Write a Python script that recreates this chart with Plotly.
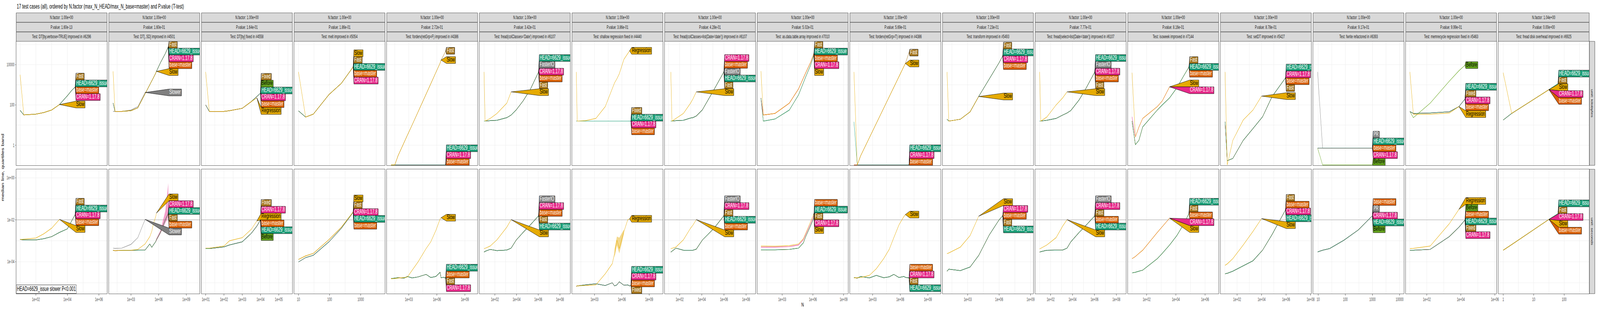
import math
import plotly.graph_objects as go

# ---------------- text ----------------
TITLE = "17 test cases (all), ordered by N.factor (max_N_HEAD/max_N_base=master) and P.value (T-test)"
Y_TITLE = "median line, quartiles band"
X_TITLE = "N"
ROW_STRIPS = ["unit: kilobytes", "unit: seconds"]
NOTE_TEXT = "HEAD=6629_issue slower P<0.001"

N_FACTOR = ["1.00e+00"] * 16 + ["1.04e+00"]
P_VALUE = ["1.60e-13", "1.60e-01", "1.64e-01", "1.86e-01", "2.72e-01", "3.42e-01",
           "3.86e-01", "4.28e-01", "5.02e-01", "5.69e-01", "7.23e-01", "7.77e-01",
           "8.16e-01", "8.78e-01", "9.17e-01", "9.99e-01", "0.00e+00"]
TESTS = ["DT[by,verbose=TRUE] improved in #6296",
         "DT[,.SD] improved in #4501",
         "DT[by] fixed in #4558",
         "melt improved in #5054",
         "forderv(retGrp=F) improved in #4386",
         "fread(colClasses='Date') improved in #6107",
         "shallow regression fixed in #4440",
         "fread(colClasses=list(Date='date')) improved in #6107",
         "as.data.table.array improved in #7010",
         "forderv(retGrp=T) improved in #4386",
         "transform improved in #5493",
         "fread(select=list(Date='date')) improved in #6107",
         "isoweek improved in #7144",
         "setDT improved in #5427",
         "fwrite refactored in #6393",
         "memrecycle regression fixed in #5463",
         "fread disk overhead improved in #6925"]

# x axis ticks per column
X_TICKS = [[1e2, 1e4, 1e6], [1e3, 1e6, 1e9], [1e1, 1e2, 1e3, 1e4, 1e5], [10, 100, 1000],
           [1e3, 1e6, 1e9], [1e2, 1e4, 1e6, 1e8], [1e3, 1e6, 1e9], [1e2, 1e4, 1e6, 1e8],
           [1e3, 1e6, 1e9], [1e3, 1e6, 1e9], [1e3, 1e6, 1e9], [1e2, 1e4, 1e6, 1e8],
           [1e2, 1e4, 1e6], [1e2, 1e4, 1e6, 1e8], [10, 100, 1000, 10000], [1e2, 1e4, 1e6],
           [1, 10, 100]]
X_TICKTEXT = [["1e+02", "1e+04", "1e+06"], ["1e+03", "1e+06", "1e+09"],
              ["1e+01", "1e+02", "1e+03", "1e+04", "1e+05"], ["10", "100", "1000"],
              ["1e+03", "1e+06", "1e+09"], ["1e+02", "1e+04", "1e+06", "1e+08"],
              ["1e+03", "1e+06", "1e+09"], ["1e+02", "1e+04", "1e+06", "1e+08"],
              ["1e+03", "1e+06", "1e+09"], ["1e+03", "1e+06", "1e+09"],
              ["1e+03", "1e+06", "1e+09"], ["1e+02", "1e+04", "1e+06", "1e+08"],
              ["1e+02", "1e+04", "1e+06"], ["1e+02", "1e+04", "1e+06", "1e+08"],
              ["10", "100", "1000", "10000"], ["1e+02", "1e+04", "1e+06"], ["1", "10", "100"]]
X_RANGE = [[0.75, 6.52], [0.6, 10.45], [0.77, 5.74], [0.86, 3.78], [0.64, 10.36],
           [0.57, 8.95], [0.53, 10.5], [0.64, 8.85], [0.57, 9.44], [0.53, 10.4],
           [0.6, 9.27], [0.59, 8.88], [0.71, 6.93], [0.64, 8.06], [0.81, 4.16],
           [0.76, 6.1], [-0.16, 2.82]]
Y_TICKS = [[1, 100, 10000], [1e-4, 1e-2, 1]]
Y_TICKTEXT = [["1", "100", "10000"], ["1e-04", "1e-02", "1e+00"]]
Y_MINOR = [[0.1, 10, 1000, 100000], [1e-5, 1e-3, 1e-1]]
Y_RANGE = [[-1.0, 5.16], [-5.52, 0.41]]
SECONDS_LIMIT = 0.01

# ---------------- versions ----------------
HEAD = "HEAD=6629_issue"
BASE = "base=master"
CRAN = "CRAN=1.17.8"
FAST = "Fast"
SLOW = "Slow"
SLOWER = "Slower"
FASTERIO = "FasterIO"
FIXED = "Fixed"
BEFORE = "Before"
REGR = "Regression"
PR = "PR"

VERSION_COLORS = {HEAD: "#1B9E77", BASE: "#D95F02", CRAN: "#E7298A", FAST: "#A6761D",
                  SLOW: "#E6AB02", SLOWER: "#808080", FASTERIO: "#808080", PR: "#808080",
                  FIXED: "#A6761D", BEFORE: "#66A61E", REGR: "#E6AB02"}
DARK_TEXT = {SLOW, REGR, BEFORE}
DRAW_ORDER = [SLOWER, FASTERIO, PR, BEFORE, FIXED, BASE, CRAN, FAST, HEAD, REGR, SLOW]

# ---------------- data (N, kilobytes, seconds) ----------------
P01_N = [10, 17, 100, 316, 1000, 3160, 10000, 17800, 31600]
P01_KB_MAIN = [54, 32, 35, 42, 56, 105, 288, 500, 794]
P01_KB_SLOW = [3160, 32, 35, 42, 56, 105, None, None, None]
P01_SEC_MAIN = [1.15e-3, 1.1e-3, 1.1e-3, 1.26e-3, 1.58e-3, 2.51e-3, 3.72e-3, 8.3e-3, 1.82e-2]
P01_SEC_SLOW = [1.15e-3, 1.2e-3, 1.35e-3, 2.14e-3, 3.98e-3, 1.05e-2, None, None, None]

P02_N = [11.5, 18.6, 100, 1000, 5500, 33900, 110000, 182000, 263000, 479000, 575000,
         1.58e6, 5.25e6, 1.12e7]
P02_KB_MAIN = [126, 48, 48, 52, 72, 355, 1000, 1510, 2190, 3800, 4680, 12600, 35500, 77600]
P02_KB_SLOW = [4680, 48, 48, 52, 72, 355, 1000, 1510, 2190, 3800, 4680, None, None, None]
P02_KB_SLOWER = [48, 48, 48, 56, 83, 417, None, None, None, None, None, None, None, None]
P02_SEC_MAIN = [3.47e-4, 3.39e-4, 3.47e-4, 3.55e-4, 3.63e-4, 3.63e-4, 7.08e-4, 4.9e-4,
                6.31e-4, 9.12e-4, 1.12e-3, 2.51e-3, 1.0e-2, 2.0e-2]
P02_SEC_SLOW = [3.47e-4, 3.39e-4, 3.47e-4, 3.55e-4, 3.89e-4, 7.08e-4, 1.58e-3, 2.88e-3,
                6.3e-3, 1.41e-2, 2.09e-2, None, None, None]
P02_SEC_SLOWER = [4.47e-4, 4.37e-4, 4.47e-4, 6.76e-4, 1.41e-3, 1.05e-2, None, None, None,
                  None, None, None, None, None]
P02_BAND_N = [479000, 575000, 1.58e6, 5.25e6, 1.12e7]
P02_BAND_LO = [8.5e-4, 1.0e-3, 2.2e-3, 7.0e-3, 1.3e-2]
P02_BAND_HI = [1.0e-3, 1.3e-3, 3.2e-3, 2.6e-2, 5.6e-1]

P03_N = [10, 15.8, 100, 200, 1000, 3160, 6310, 10000]
P03_KB_MAIN = [100, 48, 48, 52, 68, 148, 263, 389]
P03_KB_REGR = [4365, 48, 48, 52, 68, 148, 224, None]
P03_SEC_MAIN = [4.27e-4, 4.27e-4, 5.13e-4, 6.31e-4, 8.91e-4, 2.29e-3, 5.01e-3, 1.0e-2]
P03_SEC_REGR = [4.47e-4, 4.47e-4, 5.62e-4, 1.0e-3, 1.41e-3, 3.55e-3, 8.91e-3, None]

P04_N = [10, 17, 30, 95, 240, 575]
P04_KB_MAIN = [51, 25, 35, 324, 1200, 7760]
P04_KB_SLOW = [4365, 25, 35, 324, 1200, 7760]
P04_SEC_MAIN = [9.8e-5, 1.58e-4, 2.04e-4, 8.91e-4, 3.98e-3, 2.29e-2]
P04_SEC_SLOW = [1.29e-4, 1.91e-4, 2.51e-4, 1.12e-3, 4.47e-3, 2.4e-2]

P05_N = [12.6, 31.6, 70.8, 316, 708, 2240, 10000, 70800, 224000, 794000, 2.24e6, 2.82e6,
         5.01e6, 8.91e6]
P05_KB_SLOW = [0.105, 0.105, 0.3, 1.41, 3.16, 10, 45.7, 347, 1120, 4170, 12000, 17000, None, None]
P05_KB_FAST = [0.105, 0.105, 0.3, 1.41, 3.16, 10, 45.7, 347, 1120, 4170, 12000, 17000, 28000, 49000]
P05_KB_FLAT = [0.105, 0.105, 0.105, 0.105, 0.105, 0.105, 0.105, 0.105, 0.105, 0.105, 0.105,
               0.105, 0.105, 0.105]
P05_SEC_SLOW = [1.55e-5, 1.58e-5, 1.66e-5, 1.78e-5, 1.86e-5, 3.89e-5, 1.0e-4, 4.27e-4, 8.91e-4,
                3.16e-3, 1.1e-2, 1.26e-2, None, None]
P05_SEC_FLAT = [1.58e-5, 1.66e-5, 1.74e-5, 1.66e-5, 2.0e-5, 1.7e-5, 1.9e-5, 2.51e-5, 1.78e-5,
                2.0e-5, 3.16e-5, 1.74e-5, 1.82e-5, 1.7e-5]

P06_N = [10, 12.6, 37, 158, 1260, 3160, 9120, 39800, 182000, 1.1e6]
P06_KB_MAIN = [15.8, 15.8, 16.6, 17.4, 23.4, 31.6, 56, 158, 575, 4470]
P06_KB_SLOW = [4365, 15.8, 21.4, 38, 123, 447, None, None, None, None]
P06_SEC_MAIN = [2.88e-4, 3.16e-4, 3.89e-4, 3.39e-4, 3.63e-4, 4.47e-4, 1.07e-3, 2.51e-3, 5.62e-3, 1.58e-2]
P06_SEC_SLOW = [4.27e-4, 4.37e-4, 5.62e-4, 1.12e-3, 4.47e-3, 1.02e-2, None, None, None, None]

P07_N = [10, 12.6, 100, 1410, 15100, 89100, 158000, 288000, 525000, 1.7e6, 4.37e6, 7.08e6, 1e7]
P07_KB_FLAT = [15.8, 15.8, 15.8, 15.8, 15.8, 15.8, 15.8, 15.8, 15.8, 15.8, 15.8, 15.8, 15.8]
P07_KB_REGR = [4365, 15.8, 16.6, 21.4, 83, 631, 1260, 2000, 3550, 18600, 35500, 49000, None]
P07_SEC_FLAT = [6.76e-6, 7.08e-6, 7.94e-6, 8.91e-6, 7.41e-6, 1.0e-5, 7.08e-6, 7.94e-6, 1.12e-5,
                7.59e-6, 7.94e-6, 7.08e-6, 7.41e-6]
P07_SEC_REGR = [6.76e-6, 7.08e-6, 7.41e-6, 7.94e-6, 2.69e-5, 8.13e-5, 2.51e-4, 1.07e-3, 4.27e-4,
                2.75e-3, 1.0e-2, 1.12e-2, None]
P07_BAND_N = [158000, 288000, 525000, 1.7e6]
P07_BAND_LO = [1.6e-4, 6.0e-4, 2.5e-4, 2.2e-3]
P07_BAND_HI = [4.0e-4, 1.6e-3, 1.4e-3, 3.5e-3]

P08_N = [15.8, 20, 45.7, 219, 955, 1580, 3160, 11000, 126000, 1e6]
P08_KB_MAIN = [15.8, 15.8, 16.6, 17.4, 22.4, 23.4, 28.2, 56, 575, 4470]
P08_KB_SLOW = [4365, 15.8, 21.4, 38, 123, 200, 447, None, None, None]
P08_SEC_MAIN = [2.88e-4, 3.16e-4, 4.47e-4, 3.55e-4, 3.63e-4, 3.55e-4, 3.98e-4, 1.07e-3, 3.98e-3, 1.58e-2]
P08_SEC_SLOW = [4.27e-4, 4.37e-4, 5.01e-4, 1.12e-3, 3.98e-3, 5.62e-3, 1.02e-2, None, None, None]

P09_N = [8.5, 14.5, 200, 5010, 39800, 117000, 200000, 575000, 1.26e6]
P09_KB_ORANGE = [219, 31.6, 38, 123, 631, 2240, 3980, 12600, 36300]
P09_KB_SLOW = [4790, 31.6, 38, 123, 631, 2240, 3980, 12600, 36300]
P09_KB_GREEN = [219, 15.8, 20, 56, 316, 1260, 2510, 8910, 30200]
P09_SEC_SLOW = [5.62e-4, 5.62e-4, 5.5e-4, 5.89e-4, 7.08e-4, 1.26e-3, 2.29e-3, 7.94e-3, 2.0e-2]
P09_SEC_CRAN = [5.01e-4, 5.01e-4, 5.01e-4, 5.25e-4, 6.31e-4, 1.12e-3, 2.0e-3, 6.31e-3, 1.58e-2]
P09_SEC_GREEN = [3.72e-4, 3.72e-4, 3.72e-4, 3.89e-4, 4.47e-4, 7.94e-4, 1.58e-3, 5.01e-3, 1.26e-2]

P10_N = [9.3, 21.4, 50, 437, 2510, 15800, 63100, 200000, 724000, 2.51e6, 3.55e6, 9.12e6]
P10_KB_SLOW = [4365, 0.105, 0.3, 2.34, 12, 69, 257, 759, 2570, 8320, 11500, None]
P10_KB_FAST = [0.105, 0.105, 0.3, 2.34, 12, 69, 257, 759, 2570, 8320, 11500, 39800]
P10_KB_HEAD = [14.5, 0.105, 0.105, 0.105, 0.105, 0.105, 0.105, 0.105, 0.105, 0.105, 0.105, 0.105]
P10_KB_FLAT = [0.105, 0.105, 0.105, 0.105, 0.105, 0.105, 0.105, 0.105, 0.105, 0.105, 0.105, 0.105]
P10_SEC_SLOW = [1.7e-5, 1.74e-5, 1.78e-5, 2.24e-5, 4.68e-5, 1.41e-4, 3.89e-4, 1.41e-3, 5.75e-3,
                1.45e-2, 1.78e-2, None]
P10_SEC_FLAT = [1.78e-5, 1.66e-5, 2.0e-5, 1.7e-5, 2.24e-5, 1.74e-5, 1.91e-5, 2.51e-5, 1.78e-5,
                2.0e-5, 1.82e-5, 1.7e-5]

P11_N = [10.7, 15.8, 200, 1700, 11200, 115000, 1e6, 2.24e6]
P11_KB_MAIN = [19.5, 15.8, 19.5, 45.7, 263, 1910, 12600, 27500]
P11_KB_SLOW = [4365, 15.8, 19.5, 45.7, 263, None, None, None]
P11_SEC_MAIN = [3.55e-5, 4.47e-5, 3.8e-5, 5.62e-5, 2.0e-4, 1.91e-3, 1.0e-2, 1.58e-2]
P11_SEC_SLOW = [2.45e-4, 2.63e-4, 5.01e-4, 1.78e-3, 1.48e-2, None, None, None]

P12_N = [10, 12.6, 44.7, 316, 1260, 3160, 6920, 39800, 145000, 1.1e6]
P12_KB_MAIN = [15.8, 15.8, 17.4, 21.4, 31.6, 39.8, 52.5, 178, 575, 4470]
P12_KB_SLOW = [4365, 15.8, 25.1, 100, 224, 447, None, None, None, None]
P12_SEC_MAIN = [2.88e-4, 3.02e-4, 3.55e-4, 3.63e-4, 3.63e-4, 4.47e-4, 8.91e-4, 2.51e-3, 5.01e-3, 1.58e-2]
P12_SEC_SLOW = [4.17e-4, 4.37e-4, 6.31e-4, 1.41e-3, 5.01e-3, 1.02e-2, None, None, None, None]

P13_N = [10, 17, 29.5, 53.7, 537, 1170, 3720, 11700, 31600, 79400]
P13_KB_SLOW = [3980, 2.57, 7.94, 21.4, 83, 158, 794, None, None, None]
P13_KB_CRAN = [25.7, 2.57, 7.94, 21.4, 83, 158, 794, None, None, None]
P13_KB_GREEN = [15.8, 1.07, 1.74, 8.13, 56, 100, 224, 708, 2510, 7760]
P13_SEC_ORANGE = [1.41e-4, 1.78e-4, 2.51e-4, 3.55e-4, 2.51e-3, 4.68e-3, 1.2e-2, None, None, None]
P13_SEC_GREEN = [2.95e-5, 3.16e-5, 3.55e-5, 3.98e-5, 1.41e-4, 2.51e-4, 6.31e-4, 1.78e-3, 5.62e-3, 2.0e-2]

P14_N = [10.5, 15.8, 44.7, 316, 2000, 10000, 12000, 72400, 912000]
P14_KB_SLOW = [4365, 0.105, 1.74, 17.8, 56, 275, None, None, None]
P14_KB_MAIN = [14.5, 0.17, 0.22, 1.74, 6.76, 22.4, 25.7, 263, 2240]
P14_SEC_SLOW = [6.76e-5, 7.94e-5, 1.41e-4, 6.31e-4, 2.82e-3, 1.15e-2, None, None, None]
P14_SEC_MAIN = [2.69e-5, 2.82e-5, 3.55e-5, 6.31e-5, 1.12e-4, 3.16e-4, 3.55e-4, 2.0e-3, 3.02e-2]

P15_N = [9.5, 14.5, 26.3, 89, 302, 1000]
P15_KB_PR = [4365, 0.72, 0.72, 0.72, 0.72, 0.72]
P15_KB_MAIN = [0.72, 0.72, 0.72, 0.72, 0.72, 0.72]
P15_KB_BEFORE = [0.72, 0.105, 0.105, 0.105, 0.105, 0.105]
P15_SEC_MAIN = [2.95e-4, 3.55e-4, 4.27e-4, 1.07e-3, 3.31e-3, 1.58e-2]

P16_N = [10.2, 16.2, 158, 2090, 7760, 17800]
P16_KB_REGR = [4365, 34.7, 34.7, 39.8, 83, None]
P16_KB_BEFORE = [46.8, 23.4, 123, 1510, 5010, 9550]
P16_KB_MAIN = [46.8, 38, 40, 45.7, 83, 200]
P16_SEC_REGR = [4.27e-4, 4.37e-4, 5.62e-4, 6.46e-3, 3.16e-2, None]
P16_SEC_MAIN = [3.55e-4, 3.55e-4, 3.89e-4, 1.58e-3, 4.47e-3, 1.0e-2]

P17_N = [1, 1.9, 31.6, 63]
P17_KB_SLOW = [3980, 38, 575, None]
P17_KB_MAIN = [17.8, 38, 575, None]
P17_KB_LONG = [17.8, 38, 575, 1150]
P17_SEC_MAIN = [3.55e-4, 6.6e-4, 1.05e-2, None]
P17_SEC_LONG = [3.55e-4, 6.6e-4, 1.05e-2, 2.0e-2]


def same(arr, *versions):
    return {v: arr for v in versions}


PANELS = [
    dict(n=P01_N,
         kb={**same(P01_KB_MAIN, FAST, HEAD, BASE, CRAN), SLOW: P01_KB_SLOW},
         sec={**same(P01_SEC_MAIN, FAST, HEAD, BASE, CRAN), SLOW: P01_SEC_SLOW},
         kb_order=[FAST, HEAD, BASE, CRAN, SLOW], sec_order=[FAST, HEAD, CRAN, BASE, SLOW]),
    dict(n=P02_N,
         kb={**same(P02_KB_MAIN, FAST, HEAD, BASE, CRAN), SLOW: P02_KB_SLOW, SLOWER: P02_KB_SLOWER},
         sec={**same(P02_SEC_MAIN, FAST, HEAD, BASE, CRAN), SLOW: P02_SEC_SLOW, SLOWER: P02_SEC_SLOWER},
         kb_order=[FAST, HEAD, CRAN, BASE, SLOW, SLOWER],
         sec_order=[SLOW, CRAN, HEAD, FAST, BASE, SLOWER]),
    dict(n=P03_N,
         kb={**same(P03_KB_MAIN, FIXED, BEFORE, HEAD, CRAN, BASE), REGR: P03_KB_REGR},
         sec={**same(P03_SEC_MAIN, FIXED, BEFORE, HEAD, CRAN, BASE), REGR: P03_SEC_REGR},
         kb_order=[FIXED, BEFORE, HEAD, CRAN, BASE, REGR],
         sec_order=[FIXED, CRAN, REGR, BASE, HEAD, BEFORE]),
    dict(n=P04_N,
         kb={**same(P04_KB_MAIN, FAST, HEAD, BASE, CRAN), SLOW: P04_KB_SLOW},
         sec={**same(P04_SEC_MAIN, HEAD, BASE, CRAN), **same(P04_SEC_SLOW, SLOW, FAST)},
         kb_order=[SLOW, FAST, HEAD, BASE, CRAN], sec_order=[SLOW, FAST, CRAN, HEAD, BASE]),
    dict(n=P05_N,
         kb={**same(P05_KB_FLAT, HEAD, CRAN, BASE), SLOW: P05_KB_SLOW, FAST: P05_KB_FAST},
         sec={**same(P05_SEC_FLAT, HEAD, BASE, FAST, CRAN), SLOW: P05_SEC_SLOW},
         kb_order=[FAST, SLOW, HEAD, CRAN, BASE], sec_order=[SLOW, HEAD, BASE, FAST, CRAN]),
    dict(n=P06_N,
         kb={**same(P06_KB_MAIN, HEAD, FASTERIO, CRAN, BASE, FAST), SLOW: P06_KB_SLOW},
         sec={**same(P06_SEC_MAIN, HEAD, FASTERIO, CRAN, BASE, FAST), SLOW: P06_SEC_SLOW},
         kb_order=[HEAD, FASTERIO, CRAN, BASE, FAST, SLOW],
         sec_order=[FASTERIO, CRAN, BASE, FAST, HEAD, SLOW]),
    dict(n=P07_N,
         kb={**same(P07_KB_FLAT, FIXED, HEAD, CRAN, BASE), REGR: P07_KB_REGR},
         sec={**same(P07_SEC_FLAT, FIXED, HEAD, CRAN, BASE), REGR: P07_SEC_REGR},
         kb_order=[REGR, FIXED, HEAD, CRAN, BASE], sec_order=[REGR, HEAD, CRAN, BASE, FIXED]),
    dict(n=P08_N,
         kb={**same(P08_KB_MAIN, HEAD, FASTERIO, CRAN, BASE, FAST), SLOW: P08_KB_SLOW},
         sec={**same(P08_SEC_MAIN, HEAD, FASTERIO, CRAN, BASE, FAST), SLOW: P08_SEC_SLOW},
         kb_order=[CRAN, BASE, FASTERIO, HEAD, FAST, SLOW],
         sec_order=[FASTERIO, CRAN, FAST, HEAD, BASE, SLOW]),
    dict(n=P09_N,
         kb={**same(P09_KB_ORANGE, BASE, CRAN), SLOW: P09_KB_SLOW, **same(P09_KB_GREEN, HEAD, FAST)},
         sec={SLOW: P09_SEC_SLOW, CRAN: P09_SEC_CRAN, **same(P09_SEC_GREEN, HEAD, FAST, BASE)},
         kb_order=[FAST, HEAD, BASE, CRAN, SLOW], sec_order=[BASE, HEAD, FAST, CRAN, SLOW]),
    dict(n=P10_N,
         kb={SLOW: P10_KB_SLOW, FAST: P10_KB_FAST, HEAD: P10_KB_HEAD, **same(P10_KB_FLAT, CRAN, BASE)},
         sec={SLOW: P10_SEC_SLOW, **same(P10_SEC_FLAT, BASE, CRAN, FAST, HEAD)},
         kb_order=[FAST, SLOW, HEAD, CRAN, BASE], sec_order=[SLOW, BASE, CRAN, FAST, HEAD]),
    dict(n=P11_N,
         kb={**same(P11_KB_MAIN, FAST, HEAD, CRAN, BASE), SLOW: P11_KB_SLOW},
         sec={**same(P11_SEC_MAIN, FAST, HEAD, CRAN, BASE), SLOW: P11_SEC_SLOW},
         kb_order=[FAST, HEAD, CRAN, BASE, SLOW], sec_order=[SLOW, CRAN, BASE, FAST, HEAD]),
    dict(n=P12_N,
         kb={**same(P12_KB_MAIN, HEAD, FASTERIO, CRAN, BASE, FAST), SLOW: P12_KB_SLOW},
         sec={**same(P12_SEC_MAIN, HEAD, FASTERIO, CRAN, BASE, FAST), SLOW: P12_SEC_SLOW},
         kb_order=[HEAD, FASTERIO, CRAN, BASE, FAST, SLOW],
         sec_order=[FASTERIO, CRAN, FAST, BASE, HEAD, SLOW]),
    dict(n=P13_N,
         kb={SLOW: P13_KB_SLOW, CRAN: P13_KB_CRAN, **same(P13_KB_GREEN, HEAD, FAST, BASE)},
         sec={**same(P13_SEC_ORANGE, SLOW, CRAN), **same(P13_SEC_GREEN, HEAD, FAST, BASE)},
         kb_order=[FAST, HEAD, BASE, SLOW, CRAN], sec_order=[HEAD, FAST, BASE, CRAN, SLOW]),
    dict(n=P14_N,
         kb={SLOW: P14_KB_SLOW, **same(P14_KB_MAIN, HEAD, CRAN, BASE, FAST)},
         sec={SLOW: P14_SEC_SLOW, **same(P14_SEC_MAIN, HEAD, CRAN, BASE, FAST)},
         kb_order=[HEAD, CRAN, BASE, FAST, SLOW], sec_order=[FAST, BASE, CRAN, HEAD, SLOW]),
    dict(n=P15_N,
         kb={PR: P15_KB_PR, **same(P15_KB_MAIN, HEAD, BASE, CRAN), BEFORE: P15_KB_BEFORE},
         sec={**same(P15_SEC_MAIN, BASE, PR, CRAN, HEAD, BEFORE)},
         kb_order=[PR, HEAD, BASE, CRAN, BEFORE], sec_order=[BASE, PR, CRAN, HEAD, BEFORE]),
    dict(n=P16_N,
         kb={REGR: P16_KB_REGR, BEFORE: P16_KB_BEFORE, **same(P16_KB_MAIN, HEAD, FIXED, CRAN, BASE)},
         sec={REGR: P16_SEC_REGR, **same(P16_SEC_MAIN, BEFORE, BASE, HEAD, FIXED, CRAN)},
         kb_order=[BEFORE, HEAD, FIXED, CRAN, BASE, REGR],
         sec_order=[REGR, BEFORE, BASE, HEAD, FIXED, CRAN]),
    dict(n=P17_N,
         kb={SLOW: P17_KB_SLOW, **same(P17_KB_MAIN, CRAN, BASE), **same(P17_KB_LONG, HEAD, FAST)},
         sec={**same(P17_SEC_MAIN, CRAN, SLOW, BASE), **same(P17_SEC_LONG, HEAD, FAST)},
         kb_order=[HEAD, FAST, SLOW, CRAN, BASE], sec_order=[HEAD, FAST, CRAN, SLOW, BASE]),
]

BANDS = [dict(col=1, row=1, version=CRAN, n=P02_BAND_N, lo=P02_BAND_LO, hi=P02_BAND_HI),
         dict(col=6, row=1, version=REGR, n=P07_BAND_N, lo=P07_BAND_LO, hi=P07_BAND_HI)]

# ---------------- geometry / style ----------------
FIG_W, FIG_H = 6800, 800
PANEL_LEFT0 = 69
PANEL_STEP = 394.5
PANEL_W = 387
ROW_TOP = [106, 434]
ROW_BOT = [424, 753]
STRIP_Y = [(33, 57), (57.6, 81.4), (82, 106)]
ROW_STRIP_X = (6769, 6792)
FONT = "Liberation Sans, Arial, sans-serif"
LABEL_FONT = 16
LABEL_H = 17.5
LABEL_PAD = 2.0
LABEL_GAP = 3.0

CHAR_W = {' ': .278, '=': .584, '_': .556, '.': .278, '<': .584,
          'A': .667, 'B': .667, 'C': .722, 'D': .722, 'E': .667, 'F': .611, 'H': .722,
          'I': .278, 'N': .722, 'O': .778, 'P': .667, 'R': .722, 'S': .667,
          'a': .556, 'b': .556, 'c': .5, 'd': .556, 'e': .556, 'f': .278, 'g': .556,
          'h': .556, 'i': .222, 'k': .5, 'l': .222, 'm': .833, 'n': .556, 'o': .556,
          'p': .556, 'r': .333, 's': .5, 't': .278, 'u': .556, 'v': .5, 'w': .722,
          'x': .5, 'y': .5, 'z': .5}


def text_width(s, size):
    return sum(CHAR_W.get(ch, 0.556) for ch in s) * size


def col_left(c):
    return PANEL_LEFT0 + c * PANEL_STEP


def x_to_px(c, lx):
    r0, r1 = X_RANGE[c]
    return col_left(c) + (lx - r0) / (r1 - r0) * PANEL_W


def px_to_x(c, px):
    r0, r1 = X_RANGE[c]
    return 10 ** (r0 + (px - col_left(c)) / PANEL_W * (r1 - r0))


def y_to_px(r, ly):
    r0, r1 = Y_RANGE[r]
    return ROW_TOP[r] + (r1 - ly) / (r1 - r0) * (ROW_BOT[r] - ROW_TOP[r])


def px_to_y(r, py):
    r0, r1 = Y_RANGE[r]
    return 10 ** (r1 - (py - ROW_TOP[r]) / (ROW_BOT[r] - ROW_TOP[r]) * (r1 - r0))


def place_labels(targets, lo, hi, h):
    clusters = []
    for i, t in enumerate(targets):
        clusters.append([i, i, t])
        while len(clusters) > 1:
            a, b = clusters[-2], clusters[-1]
            if b[2] < a[2] + (a[1] - a[0] + 1) * h:
                i0, i1 = a[0], b[1]
                m = sum(targets[j] - (j - i0) * h for j in range(i0, i1 + 1)) / (i1 - i0 + 1)
                clusters[-2:] = [[i0, i1, m]]
            else:
                break
    pos = [0.0] * len(targets)
    for i0, i1, m in clusters:
        for j in range(i0, i1 + 1):
            pos[j] = m + (j - i0) * h
    pos[0] = max(pos[0], lo)
    for j in range(1, len(pos)):
        pos[j] = max(pos[j], pos[j - 1] + h)
    pos[-1] = min(pos[-1], hi)
    for j in range(len(pos) - 2, -1, -1):
        pos[j] = min(pos[j], pos[j + 1] - h)
    return pos


def minor_vals(ticks, rng):
    lg = [math.log10(t) for t in ticks]
    step = lg[1] - lg[0]
    cands = [lg[0] - step / 2] + [(a + b) / 2 for a, b in zip(lg, lg[1:])] + [lg[-1] + step / 2]
    return [10 ** v for v in cands if rng[0] <= v <= rng[1]]


def rgba(hexc, a):
    h = hexc.lstrip('#')
    return "rgba(%d,%d,%d,%.2f)" % (int(h[0:2], 16), int(h[2:4], 16), int(h[4:6], 16), a)


fig = go.Figure()
layout = dict(width=FIG_W, height=FIG_H, margin=dict(l=0, r=0, t=0, b=0),
              paper_bgcolor="white", plot_bgcolor="white", showlegend=False,
              hovermode=False, font=dict(family=FONT, color="#000000"))


def axis_names(r, c):
    k = r * 17 + c + 1
    s = "" if k == 1 else str(k)
    return "x" + s, "y" + s, "xaxis" + s, "yaxis" + s


for r in range(2):
    for c in range(17):
        xr, yr, xa, ya = axis_names(r, c)
        L = col_left(c)
        layout[xa] = dict(
            type="log", domain=[L / FIG_W, (L + PANEL_W) / FIG_W], range=X_RANGE[c],
            anchor=yr, tickmode="array", tickvals=X_TICKS[c], ticktext=X_TICKTEXT[c],
            showticklabels=(r == 1), ticks="outside" if r == 1 else "", ticklen=4,
            tickwidth=1, tickcolor="#333333", tickfont=dict(size=12, color="#4D4D4D"),
            showline=True, mirror=True, linecolor="#333333", linewidth=1,
            showgrid=True, gridcolor="#EBEBEB", gridwidth=1.1, zeroline=False,
            minor=dict(tickmode="array", tickvals=minor_vals(X_TICKS[c], X_RANGE[c]),
                       showgrid=True, gridcolor="#EBEBEB", gridwidth=0.6, ticks=""))
        layout[ya] = dict(
            type="log", domain=[1 - ROW_BOT[r] / FIG_H, 1 - ROW_TOP[r] / FIG_H], range=Y_RANGE[r],
            anchor=xr, tickmode="array", tickvals=Y_TICKS[r], ticktext=Y_TICKTEXT[r],
            showticklabels=(c == 0), ticks="outside" if c == 0 else "", ticklen=4,
            tickwidth=1, tickcolor="#333333", tickfont=dict(size=12, color="#4D4D4D"),
            showline=True, mirror=True, linecolor="#333333", linewidth=1,
            showgrid=True, gridcolor="#EBEBEB", gridwidth=1.1, zeroline=False,
            minor=dict(tickmode="array", tickvals=Y_MINOR[r], showgrid=True,
                       gridcolor="#EBEBEB", gridwidth=0.6, ticks=""))

# seconds limit reference line (bottom row)
for c in range(17):
    xr, yr, _, _ = axis_names(1, c)
    fig.add_trace(go.Scatter(x=[10 ** X_RANGE[c][0], 10 ** X_RANGE[c][1]],
                             y=[SECONDS_LIMIT, SECONDS_LIMIT], mode="lines",
                             line=dict(color="#C2C2C2", width=1.6), xaxis=xr, yaxis=yr,
                             hoverinfo="skip"))

# quartile bands
for b in BANDS:
    xr, yr, _, _ = axis_names(b["row"], b["col"])
    fig.add_trace(go.Scatter(x=b["n"] + b["n"][::-1], y=b["lo"] + b["hi"][::-1],
                             fill="toself", fillcolor=rgba(VERSION_COLORS[b["version"]], 0.45),
                             line=dict(width=0), mode="lines", xaxis=xr, yaxis=yr,
                             hoverinfo="skip"))

# median lines
for c, p in enumerate(PANELS):
    for r, key in enumerate(["kb", "sec"]):
        xr, yr, _, _ = axis_names(r, c)
        series = p[key]
        for v in DRAW_ORDER:
            if v not in series:
                continue
            fig.add_trace(go.Scatter(x=p["n"], y=series[v], mode="lines",
                                     line=dict(color=VERSION_COLORS[v], width=1.2),
                                     connectgaps=False, xaxis=xr, yaxis=yr, hoverinfo="skip"))

# direct labels (polygons)
for c, p in enumerate(PANELS):
    for r, (key, okey) in enumerate([("kb", "kb_order"), ("sec", "sec_order")]):
        xr, yr, _, _ = axis_names(r, c)
        series = p[key]
        order = p[okey]
        ends = {}
        for v in order:
            vals = series[v]
            idx = max(i for i, y in enumerate(vals) if y is not None)
            ends[v] = (x_to_px(c, math.log10(p["n"][idx])), y_to_px(r, math.log10(vals[idx])))
        bl = max(e[0] for e in ends.values()) + LABEL_GAP
        targets = [ends[v][1] for v in order]
        centers = place_labels(targets, ROW_TOP[r] + LABEL_H / 2, ROW_BOT[r] - LABEL_H / 2, LABEL_H)
        tx, ty, tt, tc = [], [], [], []
        for v, yc in zip(order, centers):
            w = text_width(v, LABEL_FONT) + 2 * LABEL_PAD
            xe, ye = ends[v]
            pts = [(xe, ye), (bl, yc - LABEL_H / 2), (bl + w, yc - LABEL_H / 2),
                   (bl + w, yc + LABEL_H / 2), (bl, yc + LABEL_H / 2), (xe, ye)]
            fig.add_trace(go.Scatter(x=[px_to_x(c, q[0]) for q in pts],
                                     y=[px_to_y(r, q[1]) for q in pts],
                                     mode="lines", fill="toself", fillcolor=VERSION_COLORS[v],
                                     line=dict(color="#000000", width=1), xaxis=xr, yaxis=yr,
                                     hoverinfo="skip"))
            tx.append(px_to_x(c, bl + LABEL_PAD - 1))
            ty.append(px_to_y(r, yc))
            tt.append(v)
            tc.append("#000000" if v in DARK_TEXT else "#FFFFFF")
        fig.add_trace(go.Scatter(x=tx, y=ty, mode="text", text=tt, textposition="middle right",
                                 textfont=dict(size=LABEL_FONT, color=tc, family=FONT),
                                 marker=dict(size=1), cliponaxis=True, xaxis=xr, yaxis=yr,
                                 hoverinfo="skip"))

# strips
shapes = []
annotations = []
strip_lines = [[f"N.factor: {N_FACTOR[c]}", f"P.value: {P_VALUE[c]}", f"Test: {TESTS[c]}"]
               for c in range(17)]
for c in range(17):
    L = col_left(c)
    for (y0, y1), txt in zip(STRIP_Y, strip_lines[c]):
        shapes.append(dict(type="rect", xref="paper", yref="paper", x0=L / FIG_W,
                           x1=(L + PANEL_W) / FIG_W, y0=1 - y1 / FIG_H, y1=1 - y0 / FIG_H,
                           fillcolor="#D9D9D9", line=dict(color="#333333", width=1)))
        annotations.append(dict(text=txt, xref="paper", yref="paper",
                                x=(L + PANEL_W / 2) / FIG_W, y=1 - (y0 + y1) / 2 / FIG_H,
                                xanchor="center", yanchor="middle", showarrow=False,
                                font=dict(size=12, color="#1A1A1A")))
for r in range(2):
    shapes.append(dict(type="rect", xref="paper", yref="paper", x0=ROW_STRIP_X[0] / FIG_W,
                       x1=ROW_STRIP_X[1] / FIG_W, y0=1 - ROW_BOT[r] / FIG_H,
                       y1=1 - ROW_TOP[r] / FIG_H, fillcolor="#D9D9D9",
                       line=dict(color="#333333", width=1)))
    annotations.append(dict(text=ROW_STRIPS[r], xref="paper", yref="paper",
                            x=(ROW_STRIP_X[0] + ROW_STRIP_X[1]) / 2 / FIG_W,
                            y=1 - (ROW_TOP[r] + ROW_BOT[r]) / 2 / FIG_H, textangle=90,
                            xanchor="center", yanchor="middle", showarrow=False,
                            font=dict(size=12, color="#1A1A1A")))

annotations.append(dict(text=TITLE, xref="paper", yref="paper", x=PANEL_LEFT0 / FIG_W,
                        y=1 - 16 / FIG_H, xanchor="left", yanchor="middle", showarrow=False,
                        font=dict(size=16.5, color="#000000")))
annotations.append(dict(text=Y_TITLE, xref="paper", yref="paper", x=12 / FIG_W,
                        y=1 - 429 / FIG_H, textangle=-90, xanchor="center", yanchor="middle",
                        showarrow=False, font=dict(size=14.5, color="#000000")))
annotations.append(dict(text=X_TITLE, xref="paper", yref="paper",
                        x=(PANEL_LEFT0 + 16 * PANEL_STEP + PANEL_W + PANEL_LEFT0) / 2 / FIG_W,
                        y=1 - 781 / FIG_H, xanchor="center", yanchor="middle",
                        showarrow=False, font=dict(size=14.5, color="#000000")))
annotations.append(dict(text=NOTE_TEXT, xref="paper", yref="paper", x=PANEL_LEFT0 / FIG_W,
                        y=1 - ROW_BOT[1] / FIG_H, xanchor="left", yanchor="bottom",
                        showarrow=False, bgcolor="#FFFFFF", bordercolor="#333333",
                        borderwidth=1, borderpad=1.5, font=dict(size=16, color="#000000")))

layout["shapes"] = shapes
layout["annotations"] = annotations
fig.update_layout(**layout)

# keep the whole 6800x800 figure inside the browser window, whatever its real size
FIT_SCRIPT = """
(function () {
  var gd = document.getElementById('{plot_id}');
  document.body.style.margin = '0';
  document.documentElement.style.overflow = 'hidden';
  document.body.style.overflow = 'hidden';
  var w = Math.min(window.innerWidth || 6800, document.documentElement.clientWidth || 6800);
  var h = Math.min(window.innerHeight || 800, document.documentElement.clientHeight || 800);
  var sx = Math.min(1, w / 6800), sy = Math.min(1, h / 800);
  if (sx < 1 || sy < 1) {
    gd.style.transformOrigin = '0 0';
    gd.style.transform = 'scale(' + sx + ',' + sy + ')';
  }
})();
"""

fig.write_html("out.html", post_script=FIT_SCRIPT,
               config={"displayModeBar": False, "responsive": False})
